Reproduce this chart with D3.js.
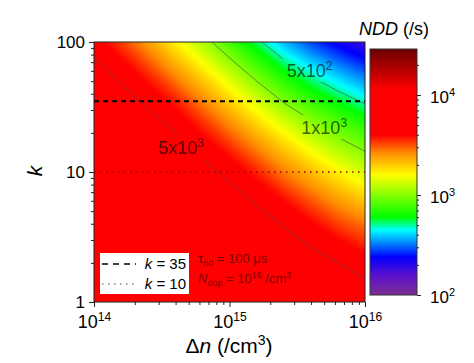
<!DOCTYPE html>
<meta charset="utf-8">
<title>NDD map</title>
<style>
body{ margin: 0; background: #fff; }
svg{ display: block; font-family: "Liberation Sans", Arial, sans-serif; }
</style>
<body>
<script src="https://d3js.org/d3.v7.min.js"></script>
<script>

var width = 474, height = 363;

// grid: log10(dn) columns, log10(k) rows
var logDn = [14.0, 14.2, 14.4, 14.6, 14.8, 15.0, 15.2, 15.4, 15.6, 15.8, 16.0];
var logK  = [0.0, 0.2, 0.4, 0.6, 0.8, 1.0, 1.2, 1.4, 1.6, 1.8, 2.0];

// log10(NDD), one row per k value (k = 1 first)
var logNDD = [
  [3.99, 3.99, 3.99, 3.98, 3.97, 3.95, 3.93, 3.90, 3.86, 3.82, 3.78],
  [3.99, 3.99, 3.98, 3.97, 3.95, 3.93, 3.89, 3.85, 3.80, 3.75, 3.69],
  [3.99, 3.98, 3.97, 3.95, 3.92, 3.89, 3.84, 3.78, 3.71, 3.65, 3.58],
  [3.98, 3.97, 3.95, 3.92, 3.88, 3.83, 3.77, 3.69, 3.61, 3.52, 3.45],
  [3.97, 3.95, 3.92, 3.88, 3.83, 3.76, 3.67, 3.58, 3.48, 3.38, 3.29],
  [3.95, 3.92, 3.88, 3.82, 3.75, 3.66, 3.56, 3.44, 3.33, 3.22, 3.12],
  [3.92, 3.88, 3.82, 3.75, 3.65, 3.54, 3.42, 3.29, 3.16, 3.05, 2.97],
  [3.88, 3.82, 3.74, 3.65, 3.53, 3.40, 3.26, 3.12, 3.00, 2.90, 2.81],
  [3.82, 3.74, 3.64, 3.53, 3.39, 3.24, 3.09, 2.94, 2.82, 2.72, 2.63],
  [3.74, 3.64, 3.52, 3.38, 3.23, 3.07, 2.91, 2.76, 2.64, 2.54, 2.45],
  [3.64, 3.52, 3.38, 3.22, 3.06, 2.89, 2.73, 2.57, 2.45, 2.35, 2.26]
];

// contour levels and their labels (position in data units)
var contourLevels = [500, 1000, 5000];
var contourLabels = [
  {base: "5x10", sup: "3", dn: 4.4e14, k: 15.6},
  {base: "5x10", sup: "2", dn: 3.9e15, k: 61},
  {base: "1x10", sup: "3", dn: 5.0e15, k: 22.2}
];

// horizontal reference lines
var refK = [35, 10];

// colour bar stops (log10 NDD) and colours
var cbStops  = [2.0, 2.2, 2.38, 2.53, 2.65, 2.78, 3.2, 3.42, 3.6, 4.05, 4.46];
var cbColors = ["#7b2f8f", "#5a10d0", "#0000ff", "#0090ff", "#00ffff", "#00ff00",
                "#ffff00", "#ff8c00", "#ff0000", "#ff0000", "#6a0000"];

var xTicks = [1e14, 1e15, 1e16];
var yTicks = [1, 10, 100];
var cbTicks = [1e2, 1e3, 1e4];

var svg = d3.select("body").append("svg")
    .attr("width", width)
    .attr("height", height);

var x = d3.scaleLog().domain([1e14, 1e16]).range([94, 365]);
var y = d3.scaleLog().domain([1, 100]).range([302, 42]);
var cb = d3.scaleLog().domain([100, Math.pow(10, 4.46)]).range([295, 49]);

var color = d3.scaleLinear().domain(cbStops).range(cbColors).clamp(true);

// grid coords -> pixels
var gx = d3.scaleLinear().domain([0.5, logDn.length - 0.5]).range([logDn[0], logDn[logDn.length - 1]]);
var gy = d3.scaleLinear().domain([0.5, logK.length - 0.5]).range([logK[0], logK[logK.length - 1]]);
var path = d3.geoPath(d3.geoTransform({
  point: function(px, py) {
    this.stream.point(x(Math.pow(10, gx(px))), y(Math.pow(10, gy(py))));
  }
}));

var values = d3.merge(logNDD);
var contour = d3.contours().size([logDn.length, logK.length]);

var defs = svg.append("defs");
defs.append("clipPath").attr("id", "plotclip")
  .append("rect")
  .attr("x", x.range()[0]).attr("y", y.range()[1])
  .attr("width", x.range()[1] - x.range()[0])
  .attr("height", y.range()[0] - y.range()[1]);

// superscript helper
function addScript(sel, base, sup, size, shift) {
  sel.append("tspan").text(base);
  sel.append("tspan").attr("dy", -shift).attr("font-size", size).text(sup);
}

/* map */
var plot = svg.append("g").attr("clip-path", "url(#plotclip)");

var thresholds = d3.range(2.2, 4.0, 0.01);
plot.append("rect")
  .attr("x", 94).attr("y", 42).attr("width", 271).attr("height", 260)
  .attr("fill", color(2.2));

plot.selectAll("path.band")
  .data(contour.thresholds(thresholds)(values))
  .join("path")
  .attr("class", "band")
  .attr("d", path)
  .attr("fill", function(d) { return color(d.value + 0.005); });

// mask out the contour lines behind their labels
var mask = defs.append("mask").attr("id", "labelmask");
mask.append("rect").attr("width", width).attr("height", height).attr("fill", "#fff");
contourLabels.forEach(function(l) {
  mask.append("rect")
    .attr("x", x(l.dn) - 27).attr("y", y(l.k) - 12)
    .attr("width", 54).attr("height", 24)
    .attr("fill", "#000");
});

plot.append("g")
  .attr("mask", "url(#labelmask)")
  .selectAll("path")
  .data(contour.thresholds(contourLevels.map(Math.log10))(values))
  .join("path")
  .attr("d", path)
  .attr("fill", "none")
  .attr("stroke", "#444")
  .attr("stroke-opacity", 0.6)
  .attr("stroke-width", 1);

contourLabels.forEach(function(l) {
  var t = svg.append("text")
    .attr("x", x(l.dn)).attr("y", y(l.k) + 7)
    .attr("text-anchor", "middle")
    .attr("font-size", 18)
    .attr("fill", "#000")
    .attr("fill-opacity", 0.65);
  addScript(t, l.base, l.sup, 12, 7);
});

// k = 35 dashed, k = 10 dotted
plot.append("line")
  .attr("x1", 94).attr("x2", 365)
  .attr("y1", y(refK[0])).attr("y2", y(refK[0]))
  .attr("stroke", "#000").attr("stroke-width", 2)
  .attr("stroke-dasharray", "5,4");
plot.append("line")
  .attr("x1", 94).attr("x2", 365)
  .attr("y1", y(refK[1])).attr("y2", y(refK[1]))
  .attr("stroke", "#a00000").attr("stroke-width", 1.5)
  .attr("stroke-dasharray", "1.5,4.5");

// legend box
var leg = svg.append("g");
leg.append("rect")
  .attr("x", 100).attr("y", 253).attr("width", 89).attr("height", 41)
  .attr("fill", "#fff");
leg.append("line")
  .attr("x1", 102).attr("x2", 136).attr("y1", 264).attr("y2", 264)
  .attr("stroke", "#000").attr("stroke-width", 1.5).attr("stroke-dasharray", "6,5");
leg.append("line")
  .attr("x1", 102).attr("x2", 136).attr("y1", 284).attr("y2", 284)
  .attr("stroke", "#888").attr("stroke-width", 1.5).attr("stroke-dasharray", "1.5,4.5");
[["35", 269], ["10", 289]].forEach(function(r) {
  var t = leg.append("text")
    .attr("x", 186).attr("y", r[1])
    .attr("text-anchor", "end")
    .attr("font-size", 15);
  t.append("tspan").attr("font-style", "italic").text("k");
  t.append("tspan").text(" = " + r[0]);
});

// parameter notes
var note1 = svg.append("text")
  .attr("x", 198).attr("y", 263)
  .attr("font-size", 13)
  .attr("fill", "#000").attr("fill-opacity", 0.55);
note1.append("tspan").text("\u03c4");
note1.append("tspan").attr("dy", 3).attr("font-size", 9).text("n0");
note1.append("tspan").attr("dy", -3).text(" = 100 \u03bcs");

var note2 = svg.append("text")
  .attr("x", 198).attr("y", 283)
  .attr("font-size", 13)
  .attr("fill", "#000").attr("fill-opacity", 0.55);
note2.append("tspan").attr("font-style", "italic").text("N");
note2.append("tspan").attr("dy", 3).attr("font-size", 9).text("dop");
note2.append("tspan").attr("dy", -3).text(" = 10");
note2.append("tspan").attr("dy", -5).attr("font-size", 9).text("16");
note2.append("tspan").attr("dy", 5).text(" /cm");
note2.append("tspan").attr("dy", -5).attr("font-size", 9).text("3");

// frame
svg.append("rect")
  .attr("x", 94).attr("y", 42).attr("width", 271).attr("height", 260)
  .attr("fill", "none").attr("stroke", "#222").attr("stroke-width", 1);

/* axes */
function minorTicks(lo, hi) {
  var out = [];
  for (var p = lo; p < hi; p *= 10)
    for (var m = 2; m < 10; m++) out.push(m * p);
  return out;
}

function styleAxis(g) {
  g.select(".domain").remove();
  g.attr("font-family", null).attr("font-size", null);
  g.selectAll(".tick line").attr("stroke", "#222");
}

var xAxis = svg.append("g")
  .attr("transform", "translate(0,302)")
  .call(d3.axisBottom(x).tickValues(xTicks).tickSize(5).tickPadding(8).tickSizeOuter(0))
  .call(styleAxis);
xAxis.selectAll(".tick text")
  .attr("font-size", 18).attr("fill", "#000")
  .text(null)
  .each(function(d) { addScript(d3.select(this), "10", Math.round(Math.log10(d)), 12, 7); });

svg.append("g")
  .attr("transform", "translate(0,302)")
  .call(d3.axisBottom(x).tickValues(minorTicks(1e14, 1e16)).tickSize(3).tickFormat(""))
  .call(styleAxis);

var yAxis = svg.append("g")
  .attr("transform", "translate(94,0)")
  .call(d3.axisLeft(y).tickValues(yTicks).tickSize(5).tickPadding(4).tickFormat(d3.format("d")).tickSizeOuter(0))
  .call(styleAxis);
yAxis.selectAll(".tick text").attr("font-size", 17).attr("fill", "#000");

svg.append("g")
  .attr("transform", "translate(94,0)")
  .call(d3.axisLeft(y).tickValues(minorTicks(1, 100)).tickSize(3).tickFormat(""))
  .call(styleAxis);

// axis titles
var xt = svg.append("text")
  .attr("x", 229).attr("y", 353)
  .attr("text-anchor", "middle")
  .attr("font-size", 21);
xt.append("tspan").text("\u0394");
xt.append("tspan").attr("font-style", "italic").text("n");
xt.append("tspan").text(" (/cm");
xt.append("tspan").attr("dy", -8).attr("font-size", 14).text("3");
xt.append("tspan").attr("dy", 8).text(")");

svg.append("text")
  .attr("transform", "translate(42,171) rotate(-90)")
  .attr("text-anchor", "middle")
  .attr("font-size", 21)
  .attr("font-style", "italic")
  .text("k");

/* colour bar */
var grad = defs.append("linearGradient")
  .attr("id", "cbgrad")
  .attr("x1", 0).attr("y1", 1).attr("x2", 0).attr("y2", 0);
grad.selectAll("stop")
  .data(cbStops)
  .join("stop")
  .attr("offset", function(d) { return (d - cbStops[0]) / (cbStops[cbStops.length - 1] - cbStops[0]); })
  .attr("stop-color", function(d, i) { return cbColors[i]; });

svg.append("rect")
  .attr("x", 370).attr("y", cb.range()[1])
  .attr("width", 47).attr("height", cb.range()[0] - cb.range()[1])
  .attr("fill", "url(#cbgrad)")
  .attr("stroke", "#333").attr("stroke-width", 1);

var cbAxis = svg.append("g")
  .attr("transform", "translate(417,0)")
  .call(d3.axisRight(cb).tickValues(cbTicks).tickSize(4).tickPadding(9).tickSizeOuter(0))
  .call(styleAxis);
cbAxis.selectAll(".tick text")
  .attr("font-size", 17).attr("fill", "#000").attr("dy", "0.45em")
  .text(null)
  .each(function(d) { addScript(d3.select(this), "10", Math.round(Math.log10(d)), 11, 7); });

svg.append("g")
  .attr("transform", "translate(417,0)")
  .call(d3.axisRight(cb).tickValues(minorTicks(100, 1e4).concat([2e4])).tickSize(2).tickFormat(""))
  .call(styleAxis);

var cbt = svg.append("text")
  .attr("x", 394).attr("y", 35)
  .attr("text-anchor", "middle")
  .attr("font-size", 18);
cbt.append("tspan").attr("font-style", "italic").text("NDD");
cbt.append("tspan").text(" (/s)");

</script>
</body>
